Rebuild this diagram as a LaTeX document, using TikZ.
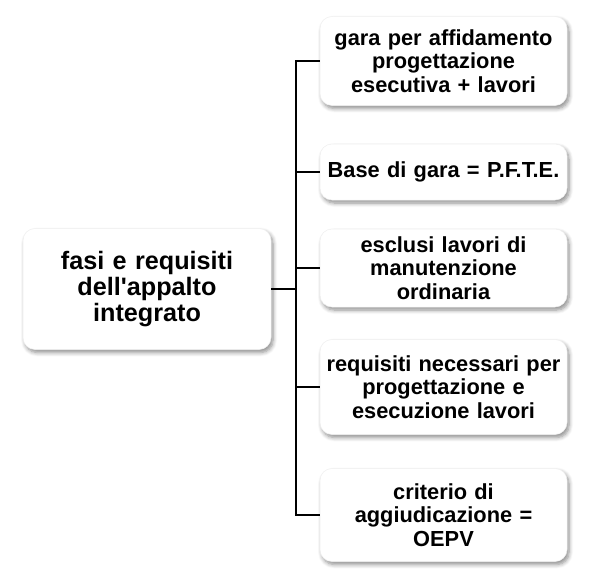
\documentclass[tikz,border=0pt]{standalone}
\usepackage{fontspec}
\setmainfont{Liberation Sans}
\newcommand{\straightquote}{\XeTeXglyph\XeTeXcharglyph"0027\relax}
\usetikzlibrary{shadows.blur}
\begin{document}
\begin{tikzpicture}[x=1pt,y=1pt,
  box/.style={rectangle, rounded corners=12pt, fill=white, draw=black!6, line width=0.5pt,
    align=center, inner sep=0pt,
    blur shadow={shadow xshift=2pt, shadow yshift=-3pt, shadow blur steps=6, shadow blur radius=4pt, shadow opacity=45}},
  rbox/.style={box, minimum width=247pt, text width=240pt, font=\bfseries\fontsize{21.8}{23.3}\selectfont},
  lbox/.style={box, minimum width=248pt, minimum height=121pt, text width=240pt, font=\bfseries\fontsize{25.2}{26}\selectfont},
  conn/.style={draw=black, line width=1.8pt}]
\useasboundingbox (0,0) rectangle (599,-586);
\node[lbox] (L) at (147,-289) {fasi e requisiti\\dell\straightquote appalto\\integrato};
\node[rbox, minimum height=89pt] (b1) at (443.5,-61) {gara per affidamento\\progettazione\\esecutiva + lavori};
\node[rbox, minimum height=56pt] (b2) at (443.5,-172) {Base di gara = P.F.T.E.};
\node[rbox, minimum height=78pt] (b3) at (443.5,-268) {esclusi lavori di\\manutenzione\\ordinaria};
\node[rbox, minimum height=95pt] (b4) at (443.5,-387) {requisiti necessari per\\progettazione e\\esecuzione lavori};
\node[rbox, minimum height=93pt] (b5) at (443.5,-515) {criterio di\\aggiudicazione =\\OEPV};
\coordinate (j) at (296,-289);
\draw[conn] (L.east) -- (j);
\draw[conn, line cap=rect] (j |- b1.west) -- (j |- b5.west);
\foreach \b in {b1,b2,b3,b4,b5} {\draw[conn] (j |- \b.west) -- (\b.west);}
\end{tikzpicture}
\end{document}
